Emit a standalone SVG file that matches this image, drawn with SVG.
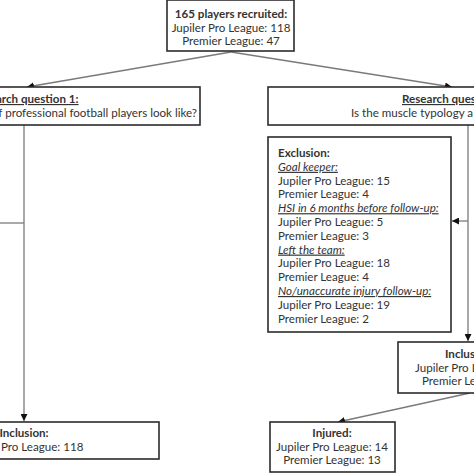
<svg xmlns="http://www.w3.org/2000/svg" width="474" height="474" viewBox="0 0 474 474">
<defs>
<marker id="ah" viewBox="0 0 10 10" refX="10" refY="5" markerWidth="7" markerHeight="7" markerUnits="userSpaceOnUse" orient="auto">
<path d="M0,0 L10,5 L0,10 z" fill="#111"/>
</marker>
<style>
.box{fill:#fff;stroke:#2b2b2b;stroke-width:1.6}
.t{font-family:Lato,"Liberation Sans",sans-serif;font-size:11.6px;fill:#333}
.c{text-anchor:middle}
.b{font-weight:bold}
.u{text-decoration:underline}
.i{font-style:italic}
.ln{fill:none;stroke:#7a7a7a;stroke-width:1.3}
.ar{marker-end:url(#ah)}
</style>
</defs>
<rect width="474" height="474" fill="#fff"/>
<g id="connectors">
<line class="ln ar" x1="231" y1="52" x2="27" y2="87"/>
<line class="ln ar" x1="231" y1="52" x2="452" y2="87"/>
<line class="ln ar" x1="24" y1="125" x2="24" y2="421"/>
<line class="ln" x1="0" y1="223" x2="24" y2="223"/>
<line class="ln ar" x1="468" y1="125" x2="468" y2="341"/>
<line class="ln ar" x1="468" y1="221" x2="452" y2="221"/>
<line class="ln ar" x1="470" y1="393" x2="338" y2="422"/>
</g>
<g id="recruited">
<rect class="box" x="167" y="0" width="127" height="51"/>
<text class="t c b" x="231" y="18">165 players recruited:</text>
<text class="t c" x="231" y="31.5">Jupiler Pro League: 118</text>
<text class="t c" x="231" y="45">Premier League: 47</text>
</g>
<g id="rq1">
<rect class="box" x="-160" y="87" width="360" height="38"/>
<text class="t c b u" x="25" y="103">Research question 1:</text>
<text class="t" x="197" y="117" text-anchor="end">of professional football players look like?</text>
</g>
<g id="rq2">
<rect class="box" x="268" y="87" width="260" height="38"/>
<text class="t b u" x="402" y="103">Research question 2:</text>
<text class="t" x="351" y="117">Is the muscle typology a risk factor?</text>
</g>
<g id="exclusion">
<rect class="box" x="268" y="137" width="183" height="195"/>
<text class="t b" x="278" y="157">Exclusion:</text>
<text class="t i u" x="278" y="170.8">Goal keeper:</text>
<text class="t" x="278" y="184.6">Jupiler Pro League: 15</text>
<text class="t" x="278" y="198.4">Premier League: 4</text>
<text class="t i u" x="278" y="212.2">HSI in 6 months before follow-up:</text>
<text class="t" x="278" y="226">Jupiler Pro League: 5</text>
<text class="t" x="278" y="239.8">Premier League: 3</text>
<text class="t i u" x="278" y="253.6">Left the team:</text>
<text class="t" x="278" y="267.4">Jupiler Pro League: 18</text>
<text class="t" x="278" y="281.2">Premier League: 4</text>
<text class="t i u" x="278" y="295">No/unaccurate injury follow-up:</text>
<text class="t" x="278" y="308.8">Jupiler Pro League: 19</text>
<text class="t" x="278" y="322.6">Premier League: 2</text>
</g>
<g id="inclusion2">
<rect class="box" x="398" y="342" width="150" height="51"/>
<text class="t b" x="445" y="358">Inclusion:</text>
<text class="t" x="415" y="371.5">Jupiler Pro League: 61</text>
<text class="t" x="422" y="385">Premier League: 34</text>
</g>
<g id="inclusion1">
<rect class="box" x="-110" y="422" width="269" height="37"/>
<text class="t c b" x="24" y="437">Inclusion:</text>
<text class="t c" x="24" y="450.5">Jupiler Pro League: 118</text>
</g>
<g id="injured">
<rect class="box" x="270" y="422" width="125" height="50"/>
<text class="t c b" x="332" y="437">Injured:</text>
<text class="t c" x="332" y="450.5">Jupiler Pro League: 14</text>
<text class="t c" x="332" y="464">Premier League: 13</text>
</g>
</svg>
